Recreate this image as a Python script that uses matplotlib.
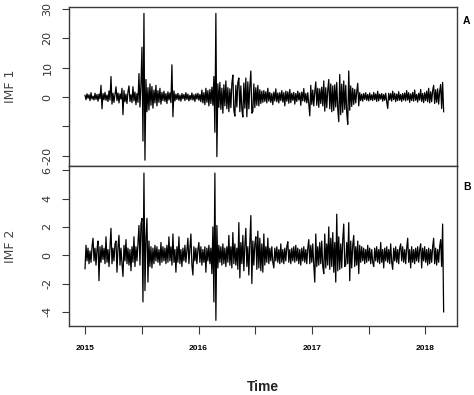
import numpy as np
import matplotlib.pyplot as plt

plt.rcParams['axes.unicode_minus'] = False

# ==============================
# data (IMF 1 and IMF 2, 2015 -> early 2018)
# ==============================
imf1 = [
    0.6, -0.9, 1.1, -0.4, 0.8, -1.2, 1.5, -0.7, 0.3, -1.0, 1.3, -0.8, 0.9, -1.4, 1.0, -0.6, 4.0, -4.0, 1.2, -0.9,
    1.6, -1.1, 0.7, -1.5, 2.1, -1.0, 7.0, -2.4, 1.3, -1.8, 0.9, 3.5, -1.2, 1.4, -2.0, 1.1, -0.7, 3.0, -6.0, 2.2,
    -1.6, 1.0, -2.2, 1.8, 3.8, -1.5, 0.8, -1.9, 3.5, -1.3, 1.7, -2.6, 1.2, -1.8, 8.0, -3.4, 4.2, 17.0, -15.0, 28.5,
    -21.5, 6.0, -5.0, 3.2, -4.4, 4.5, -2.8, 3.6, -3.8, 2.4, -2.0, 4.0, -3.0, 2.2, -1.8, 3.0, -2.4, 1.6, -1.2, 2.0,
    -1.5, 1.2, -2.2, 1.8, -1.0, 1.4, -1.9, 11.0, -6.7, 2.1, -1.3, 1.0, -0.8, 1.3, -1.1, 0.7, -1.4, 1.2, -0.6, 0.9,
    -1.2, 1.5, -0.8, 1.0, -1.3, 0.6, -0.9, 1.4, -1.0, 0.8, -1.5, 1.1, -0.7, 1.3, -1.1, 0.9, -1.6, 2.4, -2.0, 1.5,
    -2.6, 3.0, -1.8, 2.2, -3.0, 2.6, -2.2, 3.4, -2.8, 7.0, -12.0, 28.5, -20.3, 4.5, -3.5, 5.0, -4.2, 3.0, -5.5, 4.2,
    -3.0, 5.5, -4.0, 3.2, -5.0, 2.8, -3.6, 4.6, 7.5, -4.5, -6.5, 4.0, -3.4, 5.0, 6.5, -5.0, 3.8, -4.2, -6.8, 4.8,
    -3.8, 6.5, -6.7, 5.2, -4.0, 3.6, 8.9, -5.5, -5.0, 4.5, -3.6, 3.2, -2.8, 4.0, -3.0, 2.5, -2.2, 2.0, -1.8, 2.2,
    -1.5, 1.8, -2.0, 3.0, -1.4, 1.6, -1.8, 1.2, -2.6, 1.7, -1.3, 2.8, -1.6, 1.4, -2.0, 1.5, -1.2, 2.2, -1.7, 1.5,
    -3.0, 2.0, -1.4, 1.8, -2.1, 2.6, -1.9, 1.3, -1.1, 1.6, -2.4, 1.2, -1.5, 2.0, -1.0, 1.4, -2.8, 1.7, -1.3, 2.9,
    -1.6, 1.2, -2.0, 1.5, -2.5, -6.4, 4.0, -2.5, 2.4, -3.0, 1.9, 5.2, -2.8, 3.0, -3.5, 2.8, -2.2, 3.4, -3.0, 5.5,
    -4.8, 3.2, -3.6, 2.4, 6.0, -4.0, 4.5, -5.0, 3.8, -4.6, 4.2, -3.4, 5.0, -4.0, -8.4, 7.7, -6.0, 4.4, -5.2, 5.5,
    -4.2, 4.0, -5.4, -9.3, 8.9, -4.5, 3.8, -3.2, 3.0, -2.5, 2.6, -2.0, 1.8, 4.7, -3.0, 1.5, -1.2, 1.0, -1.4, 1.2,
    -0.8, 1.5, -1.1, 0.9, -1.3, 1.4, -1.0, 0.8, -1.2, 1.6, -0.9, 1.1, -1.5, 2.0, -1.3, 1.0, -0.7, 1.2, -1.4, 0.9,
    -1.1, 1.3, -1.6, -3.9, 1.3, -1.0, 1.2, -1.4, 2.0, -0.9, 1.3, -1.6, 1.0, -1.2, 1.8, -1.1, 0.9, -1.5, 1.2, -1.0,
    1.4, -1.3, 2.2, -1.0, 1.5, -1.8, 1.1, -1.2, 1.6, -1.4, 2.4, -1.1, 0.9, -1.7, 1.3, -1.0, 2.6, -1.5, 1.2, -1.9,
    1.5, -1.2, 2.0, -1.6, 3.0, -2.0, 1.8, -1.6, 2.2, 4.0, -2.2, 2.5, -1.8, 2.8, -2.4, 1.9, 4.3, -3.9, 5.0, -5.0,
]

imf2 = [
    -0.95, 0.7, -0.4, 0.5, -0.6, 0.3, -0.5, 0.6, 1.2, -0.4, 0.5, -0.7, 0.4, 1.0, -1.8, 0.6, -0.5, 0.7, -0.3, 0.5,
    -0.6, 1.3, -0.5, 0.4, -0.8, 0.6, 1.9, -0.6, 0.5, -0.4, 0.8, 1.0, -1.2, 0.6, 1.4, -0.7, 0.5, -0.6, -1.5, 0.7,
    -0.4, 1.1, -0.6, 0.5, -0.7, 0.4, -1.1, 0.6, -0.5, 1.3, -0.8, 0.6, -0.4, 0.9, 2.1, -0.7, 2.2, 2.6, -3.3, 5.8,
    -2.5, 1.2, 2.6, -1.9, 1.0, -0.8, 0.6, -0.9, 0.5, -0.6, 0.7, -0.4, 0.6, -0.5, 0.4, -0.7, 0.9, -0.5, 0.6, -0.4,
    0.5, -0.6, 0.7, -0.5, 1.3, -0.4, 0.6, -0.7, 1.5, -0.5, 0.4, -1.2, 0.6, -0.5, 1.3, -0.6, 0.4, -0.8, 0.5, -0.4,
    0.7, -0.5, 0.4, 1.2, -0.6, 0.5, 1.5, -0.7, -1.4, 0.6, -0.4, 0.5, -0.6, 0.4, 0.9, -0.5, 0.6, -0.7, 0.4, -0.5,
    0.6, -1.2, 0.5, -0.4, 0.7, -0.6, 0.5, -1.3, 2.0, -3.3, 5.8, -4.6, 2.1, -0.9, 0.7, -0.5, 0.6, -0.7, 0.8, -0.6,
    0.5, -0.8, 0.6, -0.5, 1.4, -0.7, 0.6, -0.9, 1.6, -0.6, 0.8, -0.7, 0.5, -1.0, 2.3, -1.6, 0.9, -0.6, 1.4, -1.1,
    0.7, 1.9, -0.8, 0.6, -1.4, 0.9, 2.8, -2.0, 1.0, -0.7, 0.8, 1.3, -1.0, 1.7, -0.9, 1.2, -1.1, 0.8, -1.2, 1.5,
    -0.7, 0.6, -0.5, 1.2, -0.6, 0.5, -0.4, 0.6, -0.5, -0.9, 0.5, -0.4, 0.6, -0.5, 0.4, -0.6, 0.8, -0.5, 0.4, -0.6,
    0.5, -0.4, 0.6, 0.95, -0.5, 0.4, -0.6, 0.5, -0.4, 0.6, -0.5, 0.7, -0.4, 0.5, -0.6, 0.4, -0.7, 0.5, -0.4, 0.6,
    -0.5, 0.4, -0.6, 0.5, 1.1, -0.6, 0.7, -0.5, 0.8, -0.7, -1.9, 1.5, -0.8, 0.6, -0.7, 0.9, -0.6, 1.0, -0.8, -1.3,
    1.5, -0.9, 0.8, -0.7, 2.0, -1.0, 1.2, -0.8, 1.6, -1.2, 0.9, -1.9, 2.9, -1.1, 1.3, -1.0, 0.8, -0.9, 1.1, 2.2,
    -0.8, -0.7, 0.9, -0.6, 2.3, -1.8, 1.0, -0.9, 0.7, 1.4, -0.8, 0.6, -0.7, 1.0, -1.3, 0.7, -0.5, 0.6, -0.4, 0.5,
    -0.6, 0.4, -0.5, 0.7, -0.4, 0.5, -0.6, 0.4, -0.5, -0.8, 0.5, -0.4, 0.6, -0.5, 0.4, -0.6, 0.9, -0.5, 0.4, -0.9,
    0.5, -0.4, 0.6, -0.5, 0.4, -0.6, 0.8, -0.5, -1.0, 0.5, -0.4, 0.6, -0.5, 0.4, -0.6, 0.5, 0.8, -0.4, 0.6, -0.5,
    0.4, -0.6, 0.5, 1.2, -0.5, 0.4, -0.9, 0.6, -0.5, 0.4, -0.6, 0.5, -0.4, 0.6, -0.5, 0.4, 0.8, -0.9, 0.5, -0.4,
    0.6, -0.5, 0.4, -0.7, 0.5, -0.6, 0.4, -0.5, 0.6, 1.2, -0.6, 0.5, -0.7, 0.4, -0.5, 0.6, 1.1, -0.8, 2.2, -4.0,
]

t_start, t_end = 2015.0, 2018.16
x_ticks = [2015, 2015.5, 2016, 2016.5, 2017, 2017.5, 2018]
x_labels = ['2015', '', '2016', '', '2017', '', '2018']

y1_ticks = [-20, -10, 0, 10, 20, 30]
y1_labels = ['-20', '', '0', '10', '20', '30']
y2_ticks = [-4, -2, 0, 2, 4, 6]
y2_labels = ['-4', '-2', '0', '2', '4', '6']

panels = [
    (imf1, 'IMF 1', 'A', (-23.5, 30.7), y1_ticks, y1_labels),
    (imf2, 'IMF 2', 'B', (-5.0, 6.3), y2_ticks, y2_labels),
]

# ==============================
# figure: two stacked panels sharing the time axis
# ==============================
fig = plt.figure(figsize=(4.74, 3.95), dpi=100)
positions = [[0.1456, 0.5797, 0.8186, 0.4026],
             [0.1456, 0.1747, 0.8186, 0.4050]]
frame_col = '#3a3a3a'

for k, (series, ylab, tag, ylim, yt, ytl) in enumerate(panels):
    ax = fig.add_axes(positions[k])
    t = np.linspace(t_start, t_end, len(series))
    ax.plot(t, series, color='black', lw=0.9)

    ax.set_xlim(2014.859, 2018.278)
    ax.set_ylim(*ylim)
    ax.set_yticks(yt)
    ax.set_yticklabels(ytl, rotation=90, va='center', fontsize=8, color='#333333')
    ax.tick_params(axis='y', length=5, width=0.8, color=frame_col, pad=7)
    ax.set_ylabel(ylab, fontsize=9, color='#444444')
    ax.yaxis.set_label_coords(-0.135, 0.5)

    for sp in ax.spines.values():
        sp.set_color(frame_col)
        sp.set_linewidth(1.0)

    ax.text(1.015, 0.91 if k == 0 else 0.87, tag, transform=ax.transAxes,
            fontsize=7.5, fontweight='bold', family='Liberation Sans', ha='left', va='center')

    if k == 0:
        ax.set_xticks([])
    else:
        ax.set_xticks(x_ticks)
        ax.set_xticklabels(x_labels, fontsize=6, fontweight='bold', family='Liberation Sans')
        ax.tick_params(axis='x', length=6, width=0.8, color=frame_col, pad=8)

fig.text(0.555, 0.02, 'Time', fontsize=10, fontweight='bold', family='Liberation Sans',
         ha='center', va='center', color='#222222')

plt.savefig('out.png', dpi=100)
